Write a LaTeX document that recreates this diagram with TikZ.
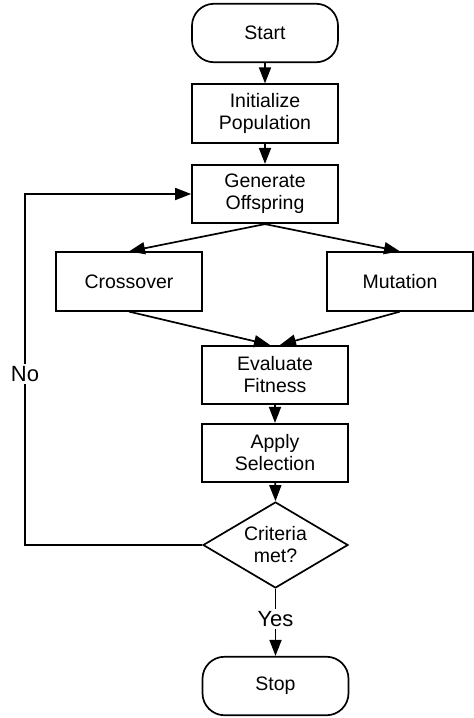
\documentclass[tikz,border=0pt]{standalone}
\usepackage{fontspec}
\setmainfont{Liberation Sans}
\usetikzlibrary{arrows.meta,shapes.geometric,calc}
\begin{document}
\begin{tikzpicture}[x=1pt,y=-1pt,
  every node/.style={font=\fontsize{19.5}{22}\selectfont},
  boxnode/.style={draw,line width=1.7pt,minimum width=146pt,minimum height=58.5pt,align=center,inner sep=0pt},
  termnode/.style={boxnode,rounded corners=22pt},
  decnode/.style={draw,line width=1.7pt,diamond,aspect=1.686,minimum width=145pt,minimum height=86pt,inner sep=0pt,align=center},
  lbl/.style={fill=white,inner sep=2pt,font=\fontsize{22}{24}\selectfont},
  conn/.style={line width=1.7pt,-{Triangle[length=16pt,width=12pt]}}]
\useasboundingbox (0,0) rectangle (474,718);
\node[termnode] (start) at (265,33) {Start};
\node[boxnode] (init) at (265,113.5) {Initialize\\Population};
\node[boxnode] (gen) at (265,194) {Generate\\Offspring};
\node[boxnode] (cross) at (129,281.5) {Crossover};
\node[boxnode] (mut) at (400,281.5) {Mutation};
\node[boxnode] (eval) at (275,375) {Evaluate\\Fitness};
\node[boxnode] (sel) at (275,453) {Apply\\Selection};
\node[decnode] (crit) at (275.5,545) {Criteria\\met?};
\node[termnode] (stop) at (275.5,686) {Stop};
\coordinate (lp) at (25,545);
\draw[conn] (start) -- (init);
\draw[conn] (init) -- (gen);
\draw[conn] (gen.south) -- (cross.north);
\draw[conn] (gen.south) -- (mut.north);
\draw[conn] (cross.south) -- ($(eval.north)+(-5,0)$);
\draw[conn] (mut.south) -- ($(eval.north)+(5,0)$);
\draw[conn] (eval) -- (sel);
\draw[conn] (sel) -- (crit.north);
\draw[conn] (crit.south) -- node[lbl,pos=0.45] (yes) {Yes} (stop.north);
\draw[conn] (crit.west) -- (lp) -- node[lbl,pos=0.487] (no) {No} (lp |- gen.west) -- (gen.west);
\end{tikzpicture}
\end{document}
